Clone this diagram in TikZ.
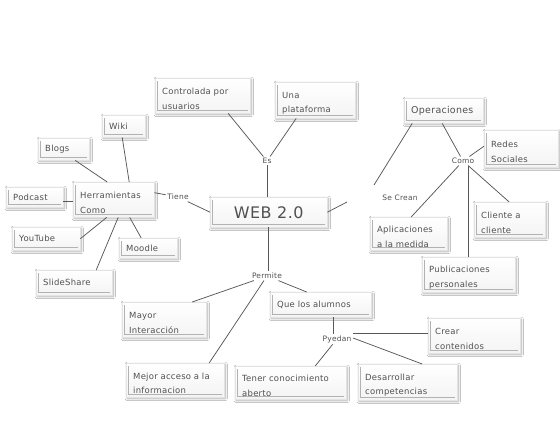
\documentclass[tikz,border=0pt]{standalone}
\usepackage{fontspec}
\setmainfont{DejaVu Sans}[LetterSpace=3]
\usetikzlibrary{shadows.blur}
\definecolor{txt}{HTML}{505050}
\definecolor{ln}{HTML}{585858}
\tikzset{
  box/.style={draw=gray!22, line width=0.4pt, top color=white, bottom color=gray!9,
    blur shadow={shadow xshift=1bp, shadow yshift=-1.2bp, shadow blur steps=6, shadow opacity=35},
    inner xsep=7bp, inner ysep=1.5bp, align=left, text=txt,
    font=\fontsize{8.5}{14.5}\selectfont,
    path picture={\draw[line width=0.9pt, draw=gray!60]
      ([shift={(2.5bp,-3bp)}]path picture bounding box.north west) --
      ([shift={(2.5bp,2.5bp)}]path picture bounding box.south west) --
      ([shift={(-2.5bp,2.5bp)}]path picture bounding box.south east);}},
  lbl/.style={text=txt, font=\fontsize{7.5}{9}\selectfont, inner sep=1.5bp},
  conn/.style={draw=ln, line width=0.75pt}
}
\newcommand\mybox[6]{%
  \node[box, anchor=north west, minimum width={(#4-#2)*1bp}, minimum height={(#5-#3)*1bp},
    text width={(#4-#2-14)*1bp}] (#1) at (#2,#3) {#6};}
\newcommand\tl{\rule{0pt}{12.5bp}}
\begin{document}
\begin{tikzpicture}[x=1bp, y=-1bp]
\fill[white] (0,0) rectangle (560,433);
\useasboundingbox (0,0) rectangle (560,433);
% boxes
\mybox{ctrl}{155}{78}{250}{113}{\tl\mbox{Controlada por}\\usuarios}
\mybox{plat}{275}{82}{355}{118}{\tl Una\\plataforma}
\mybox{wiki}{102}{115}{145}{137}{Wiki}
\mybox{blogs}{38}{138}{89}{160}{Blogs}
\mybox{podcast}{6}{187}{63}{207}{Podcast}
\mybox{herr}{73}{182}{154}{217}{\tl Herramientas\\Como}
\mybox{yt}{12}{227}{80}{250}{YouTube}
\mybox{moodle}{119}{238}{177}{258}{Moodle}
\mybox{slide}{36}{270}{112}{295}{SlideShare}
\node[box, anchor=north west, minimum width=117bp, minimum height=30bp, align=center,
  font=\fontsize{16}{18}\selectfont] (web) at (210,197) {WEB 2.0};
\node[box, anchor=north west, minimum width=79bp, minimum height=25bp,
  text width=65bp, font=\fontsize{9.5}{12}\selectfont] (op) at (404,98) {Operaciones};
\mybox{redes}{484}{130}{558}{167}{\tl Redes\\Sociales}
\mybox{cliente}{474}{202}{545}{237}{\tl Cliente a\\cliente}
\mybox{apl}{370}{217}{447}{250}{\tl Aplicaciones\\a la medida}
\mybox{pub}{422}{257}{515}{292}{\tl Publicaciones\\personales}
\mybox{que}{270}{292}{371}{317}{Que los alumnos}
\mybox{mayor}{122}{302}{206}{337}{\tl Mayor\\Interacción}
\mybox{mejor}{126}{363}{224}{397}{\tl\mbox{Mejor acceso a la}\\informacion}
\mybox{tener}{235}{366}{346}{399}{\tl\mbox{Tener conocimiento}\\aberto}
\mybox{crear}{428}{318}{520}{353}{\tl Crear\\contenidos}
\mybox{des}{358}{364}{457}{400}{\tl Desarrollar\\competencias}
% labels
\node[lbl] (es) at (267,161) {Es};
\node[lbl] (tiene) at (178,197) {Tiene};
\node[lbl] (permite) at (267,276) {Permite};
\node[lbl] (como) at (463,161) {Como};
\node[lbl] (secrean) at (400,198) {Se Crean};
\node[lbl] (pyedan) at (337,339) {Pyedan};
\coordinate (dangle) at (347,202);
\coordinate (opend) at (374,185);
% connectors
\draw[conn] ([xshift=25.5bp]ctrl.south) -- (es);
\draw[conn] ([xshift=-19bp]plat.south) -- (es);
\draw[conn] (es) -- (es |- web.north);
\draw[conn] ([yshift=7bp]herr.east) -- (tiene);
\draw[conn] (tiene) -- (web.west);
\draw[conn] ([xshift=-1.5bp]wiki.south) -- ([xshift=15.5bp]herr.north);
\draw[conn] ([xshift=11.5bp]blogs.south) -- ([xshift=-6.5bp]herr.north);
\draw[conn] ([yshift=-4bp]podcast.east) -- ([yshift=-4bp]podcast.east -| herr.west);
\draw[conn] (yt.east) -- ([xshift=-7bp]herr.south);
\draw[conn] ([xshift=22bp]slide.north) -- ([xshift=4.5bp]herr.south);
\draw[conn] ([xshift=-7bp]moodle.north) -- ([xshift=16bp]herr.south);
\draw[conn] (web.south) -- (web.south |- permite.north);
\draw[conn] (web.east) -- (dangle);
\draw[conn] ([xshift=-31.5bp]op.south) -- (opend);
\draw[conn] ([xshift=-1.5bp]op.south) -- (como);
\draw[conn] (como) -- ([yshift=2.5bp]redes.west);
\draw[conn] (como) -- ([xshift=-0.5bp]cliente.north);
\draw[conn] ([xshift=5bp]como.south) -- ([xshift=5bp]como.south |- pub.north);
\draw[conn] (como) -- ([xshift=2.5bp]apl.north);
\draw[conn] (permite) -- ([xshift=28bp]mayor.north);
\draw[conn] (permite) -- ([xshift=34bp]mejor.north);
\draw[conn] (permite) -- ([xshift=-14bp]que.north);
\draw[conn] ([xshift=12.5bp]que.south) -- ([xshift=12.5bp]que.south |- pyedan.north);
\draw[conn] (pyedan) -- ([xshift=24.5bp]tener.north);
\draw[conn] ([yshift=2.5bp]crear.west -| pyedan.east) -- ([yshift=2.5bp]crear.west);
\draw[conn] ([yshift=1bp]pyedan.east) -- ([xshift=14.5bp]des.north);
\end{tikzpicture}
\end{document}
